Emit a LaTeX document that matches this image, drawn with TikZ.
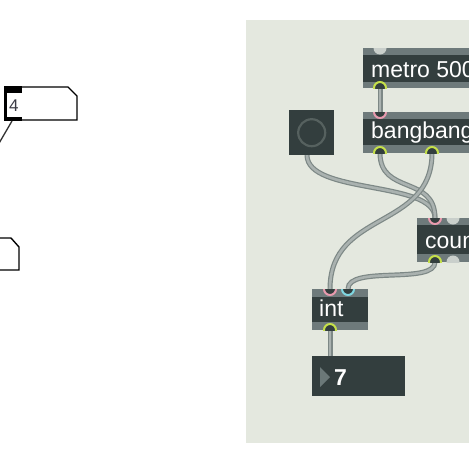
\documentclass[tikz,border=0pt]{standalone}
\usepackage{fontspec}
\setmainfont{Liberation Sans}
\definecolor{panel}{HTML}{E4E8DF}
\definecolor{strip}{HTML}{6E7A7B}
\definecolor{body}{HTML}{333E3E}
\definecolor{cordout}{HTML}{7D8886}
\definecolor{cordin}{HTML}{AAB2B0}
\definecolor{pinkp}{HTML}{E89AAE}
\definecolor{greenp}{HTML}{C5E04A}
\definecolor{cyanp}{HTML}{7FD6E0}
\definecolor{lightp}{HTML}{C9CFCB}
\definecolor{ringc}{HTML}{56615F}
\definecolor{trig}{HTML}{6B7878}
\newcommand\maxcord[1]{\draw[cordo] #1; \draw[cordi] #1;}
\begin{document}
\begin{tikzpicture}[x=1pt,y=-1pt,
  maxobj/.style={rectangle, fill=strip, draw=none, inner sep=0pt, anchor=north west},
  darkobj/.style={rectangle, fill=body, draw=none, inner sep=0pt, anchor=north west},
  txt/.style={anchor=base west, text=white, inner sep=0pt, font=\fontsize{23}{27}\selectfont},
  cordo/.style={line width=5pt, draw=cordout},
  cordi/.style={line width=2.6pt, draw=cordin},
  port/.style={fill=body, line width=2pt},
  lport/.style={fill=lightp},
  msgbox/.style={draw=black, line width=1.4pt, line join=miter}
]
\useasboundingbox (0,0) rectangle (469,469);
\fill[white] (0,0) rectangle (469,469);

% ---------- left panel ----------
\draw[msgbox] (5,87) -- (68,87) -- (77,96) -- (77,120) -- (5,120) -- cycle;
\fill[black] (4,86) rectangle (22,93);
\fill[black] (4,117) rectangle (22,121);
\fill[black] (4,86) rectangle (7,121);
\node[anchor=base west, inner sep=0pt, text={rgb,255:red,60;green,60;blue,70}, font=\fontsize{17}{20}\selectfont] (four) at (9,111) {4};
\coordinate (fourout) at (12,121);
\coordinate (offleft) at (-2,145);
\draw[line width=1.3pt, draw={rgb,255:red,50;green,50;blue,50}] (fourout) -- (offleft);
\draw[msgbox] (-2,238) -- (11,238) -- (19,247) -- (19,270) -- (-2,270);

% ---------- right panel ----------
\fill[panel] (246,20) rectangle (475,443);

% port coordinates
\coordinate (metroi) at (380,48);
\coordinate (metroo) at (380,88);
\coordinate (bangi) at (380,112);
\coordinate (bango1) at (380,153);
\coordinate (bango2) at (432,153);
\coordinate (btno) at (307,155);
\coordinate (counti) at (435,218);
\coordinate (counti2) at (453,218);
\coordinate (counto) at (435,262);
\coordinate (counto2) at (453,262);
\coordinate (inti1) at (330,289);
\coordinate (inti2) at (348,289);
\coordinate (into) at (330,330);
\coordinate (numi) at (330,356);

% cords
\maxcord{(metroo) -- (bangi)}
\maxcord{(btno) .. controls +(0,40) and +(0,-38) .. (counti)}
\maxcord{(bango1) .. controls +(0,42) and +(0,-43) .. (counti)}
\maxcord{(bango2) .. controls +(0,77) and +(0,-79) .. (inti1)}
\maxcord{(counto) .. controls +(0,23) and +(0,-24) .. (inti2)}
\maxcord{(into) -- (numi)}

% objects
\node[maxobj, minimum width=130pt, minimum height=40pt] (metro) at (363,48) {};
\fill[body] ([yshift=-7pt]metro.north west) rectangle ([yshift=6.5pt]metro.south east);
\node[txt] (metrot) at (371,77) {metro 500};

\node[maxobj, minimum width=130pt, minimum height=41pt] (bang) at (363,112) {};
\fill[body] ([yshift=-6.5pt]bang.north west) rectangle ([yshift=8pt]bang.south east);
\node[txt] (bangt) at (371,138) {bangbang};

\node[maxobj, minimum width=100pt, minimum height=44pt] (count) at (417,218) {};
\fill[body] ([yshift=-7pt]count.north west) rectangle ([yshift=8.5pt]count.south east);
\node[txt] (countt) at (425,248) {counter};

\node[maxobj, minimum width=56pt, minimum height=41pt] (int) at (312,289) {};
\fill[body] ([yshift=-8pt]int.north west) rectangle ([yshift=8pt]int.south east);
\node[txt] (intt) at (319,316) {int};

\node[darkobj, minimum width=93pt, minimum height=40pt] (num) at (312,356) {};
\fill[trig] (320,367) -- (330,377) -- (320,387) -- cycle;
\node[txt, font=\fontsize{23}{27}\selectfont\bfseries] (numt) at (334,385) {7};

\node[darkobj, minimum width=45pt, minimum height=45pt] (btn) at (289,110) {};
\draw[ringc, line width=2.2pt] (btn.center) circle[radius=13.5pt];

% ports
\begin{scope}
\clip (metro.north west) rectangle (metro.south east);
\fill[lport] (metroi) circle[radius=6.5pt];
\draw[port, draw=greenp] (metroo) circle[radius=6pt];
\end{scope}
\begin{scope}
\clip (bang.north west) rectangle (bang.south east);
\draw[port, draw=pinkp] (bangi) circle[radius=6pt];
\draw[port, draw=greenp] (bango1) circle[radius=6pt];
\draw[port, draw=greenp] (bango2) circle[radius=6pt];
\end{scope}
\begin{scope}
\clip (count.north west) rectangle (count.south east);
\draw[port, draw=pinkp] (counti) circle[radius=6pt];
\fill[lport] (counti2) circle[radius=6.5pt];
\draw[port, draw=greenp] (counto) circle[radius=6pt];
\fill[lport] (counto2) circle[radius=6.5pt];
\end{scope}
\begin{scope}
\clip (int.north west) rectangle (int.south east);
\draw[port, draw=pinkp] (inti1) circle[radius=6pt];
\draw[port, draw=cyanp] (inti2) circle[radius=6pt];
\draw[port, draw=greenp] (into) circle[radius=6pt];
\end{scope}
\end{tikzpicture}
\end{document}
